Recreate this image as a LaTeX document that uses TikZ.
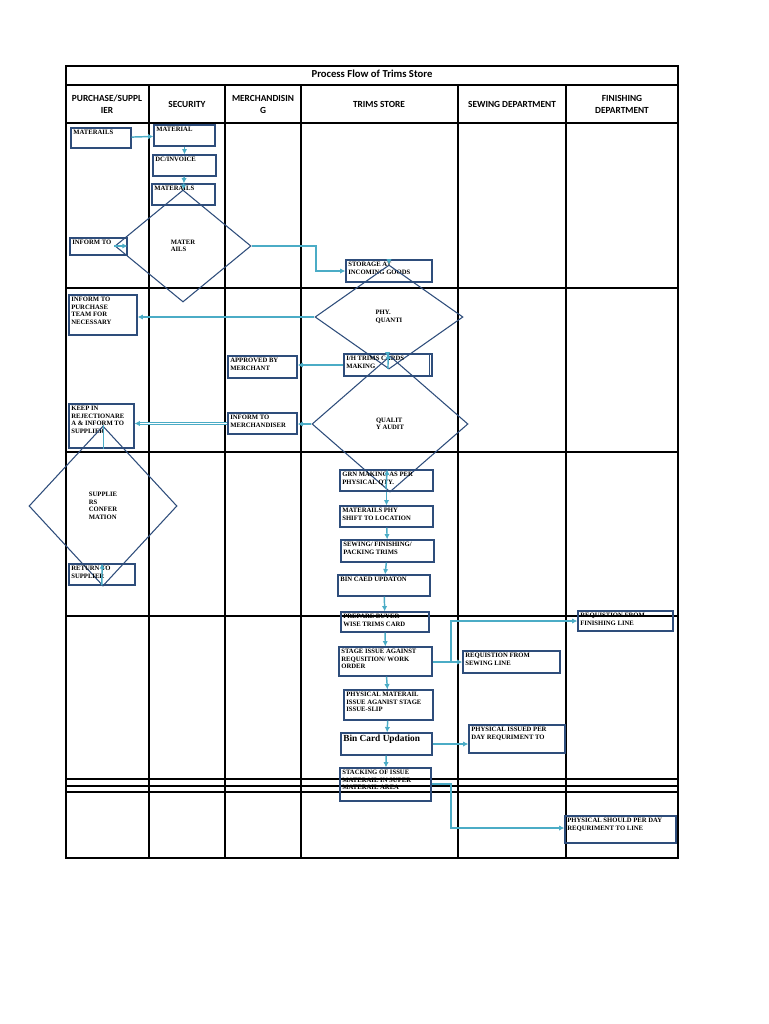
\documentclass[tikz,border=0pt]{standalone}
\usepackage{fontspec}
\setmainfont{Liberation Serif}
\newfontfamily\hdr{Carlito}
\usetikzlibrary{shapes.geometric,arrows.meta}
\definecolor{bord}{HTML}{2E4D7B}
\definecolor{arr}{HTML}{4BACC6}
\tikzset{
 box/.style={draw=bord,line width=0.9pt,inner sep=0pt,rectangle},
 btext/.style={font=\bfseries\fontsize{5}{5.6}\selectfont,align=left,inner sep=2pt,anchor=north west},
 dia/.style={draw=bord,line width=0.8pt,shape=diamond,inner sep=0pt},
 ar/.style={draw=arr,line width=1.1pt,-{Latex[length=4pt,width=4pt]}},
 grid/.style={line width=0.8pt,black},
 hd/.style={font=\hdr\bfseries\fontsize{7}{9}\selectfont,align=center}
}
\newcommand\bx[6]{\node[box,minimum width={(#4-#2)*0.75pt},minimum height={(#5-#3)*0.75pt}] (#1) at ({(#2+#4)/2},{(#3+#5)/2}) {};
\node[btext] at (#1.north west) {#6};}
\newcommand\dm[6]{\pgfmathsetmacro\myasp{#4/#5}\node[dia,minimum width={#4*1.5pt},minimum height={#5*1.5pt},aspect=\myasp] (#1) at (#2,#3) {};
\node[font=\bfseries\fontsize{5}{5.6}\selectfont,align=left] at (#1) {#6};}
\begin{document}
\begin{tikzpicture}[x=0.75pt,y=-0.75pt]
\useasboundingbox (0,0) rectangle (768,1024);
% grid
\draw[grid] (66,66) rectangle (678,858);
\draw[grid] (66,85) -- (678,85);
\foreach \x in {149,225,301,458,566} \draw[grid] (\x,85) -- (\x,858);
\foreach \y in {123,288,452,616,779,786,792} \draw[grid] (66,\y) -- (678,\y);
\node[font=\hdr\bfseries\fontsize{8}{9}\selectfont] (title) at (372,74) {Process Flow of Trims Store};
\node[hd] (h1) at (107,104) {PURCHASE/SUPPL\\IER};
\node[hd] (h2) at (187,104) {SECURITY};
\node[hd] (h3) at (263,104) {MERCHANDISIN\\G};
\node[hd] (h4) at (379,104) {TRIMS STORE};
\node[hd] (h5) at (512,104) {SEWING DEPARTMENT};
\node[hd] (h6) at (622,104) {FINISHING\\DEPARTMENT};
% boxes
\bx{m1}{71}{128}{131}{148}{MATERAILS}
\bx{m2}{154}{125}{215}{146}{MATERIAL}
\bx{dc}{153}{155}{216}{176}{DC/INVOICE}
\bx{m3}{152}{184}{215}{205}{MATERAILS}
\dm{d1}{183}{246}{68}{56}{MATER\\AILS}
\bx{inf}{70}{238}{127}{255}{INFORM TO}
\bx{sto}{346}{260}{432}{282}{STORAGE AT\\INCOMING GOODS}
\dm{d2}{389}{317}{74}{52}{PHY.\\QUANTI}
\bx{ipt}{69}{295}{137}{335}{INFORM TO\\PURCHASE\\TEAM FOR\\NECESSARY}
\bx{ih}{344}{354}{432}{376}{I/H TRIMS CARDS\\MAKING}
\draw[bord,line width=0.6pt] (429,354) -- (429,376);
\bx{apr}{228}{356}{297}{378}{APPROVED BY\\MERCHANT}
\dm{d3}{390}{424}{78}{68}{QUALIT\\Y AUDIT}
\bx{imr}{228}{413}{297}{434}{INFORM TO\\MERCHANDISER}
\bx{keep}{69}{404}{134}{448}{KEEP IN\\REJECTIONARE\\A \& INFORM TO\\SUPPLIER}
\dm{d4}{103}{506}{74}{80}{SUPPLIE\\RS\\CONFER\\MATION}
\bx{ret}{69}{564}{135}{585}{RETURN TO\\SUPPLIER}
\bx{grn}{340}{470}{433}{491}{GRN MAKING AS PER\\PHYSICAL QTY.}
\bx{shift}{340}{506}{433}{527}{MATERAILS PHY\\SHIFT TO LOCATION}
\bx{sew}{341}{540}{434}{562}{SEWING/ FINISHING/\\PACKING TRIMS}
\bx{bin}{338}{575}{430}{596}{BIN CAED UPDATON}
\bx{prep}{341}{612}{429}{632}{PREPARE BUYER\\WISE TRIMS CARD}
\bx{stage}{339}{647}{432}{676}{STAGE ISSUE AGAINST\\REQUSITION/ WORK\\ORDER}
\bx{phys}{344}{690}{433}{720}{PHYSICAL MATERAIL\\ISSUE AGANIST STAGE\\ISSUE-SLIP}
\node[box,minimum width={91*0.75pt},minimum height={22*0.75pt}] (bc) at (386.5,744) {};
\node[font=\bfseries\fontsize{7}{8}\selectfont,anchor=north west,inner sep=2pt] at (bc.north west) {Bin Card Updation};
\bx{stack}{340}{768}{431}{801}{STACKING OF ISSUE\\MATERAIL IN SUPER\\MATERAIL AREA}
\bx{rf}{578}{611}{673}{631}{REQUISTION FROM\\FINISHING LINE}
\bx{rs}{463}{651}{560}{673}{REQUISTION FROM\\SEWING LINE}
\bx{pi}{469}{725}{565}{753}{PHYSICAL ISSUED PER\\DAY REQURIMENT TO}
\bx{ps}{565}{816}{676}{843}{PHYSICAL SHOULD PER DAY\\REQURIMENT TO LINE}
% arrows
\draw[ar] (m1) -- (m2);
\draw[ar] (m2) -- (dc);
\draw[ar] (dc) -- (m3);
\draw[ar] (m3) -- (d1);
\draw[ar] (d1.west) -- (inf.east|-d1.west);
\coordinate (k1) at (316,246);
\coordinate (k2) at (316,271);
\draw[ar] (d1.east) -- (k1) -- (k2) -- (sto.west|-k2);
\draw[ar] (sto) -- (d2);
\draw[ar] (d2.west) -- (ipt.east|-d2.west);
\draw[ar] (d2) -- (ih);
\draw[ar] (ih.west) -- (apr.east|-ih.west);
\draw[ar] (ih) -- (d3);
\draw[ar] (d3.west) -- (imr.east|-d3.west);
\draw[ar,double=white,double distance=0.6pt,line width=0.6pt] (imr.west) -- (keep.east|-imr.west);
\draw[arr,line width=0.6pt] (keep.south-|d4.north) -- (d4.north);
\draw[ar] (d4) -- (ret);
\draw[ar] (d3) -- (grn);
\draw[ar] (grn) -- (shift);
\draw[ar] (shift) -- (sew);
\draw[ar] (sew) -- (bin);
\draw[ar] (bin) -- (prep);
\draw[ar] (prep) -- (stage);
\draw[ar] (stage) -- (phys);
\draw[ar] (phys) -- (bc);
\draw[ar] (bc) -- (stack);
\coordinate (s1) at (451,662);
\coordinate (s2) at (451,621);
\draw[ar] (stage.east|-s1) -- (rs.west|-s1);
\draw[ar] (s1) -- (s2) -- (rf.west|-s2);
\draw[ar] (bc.east) -- (pi.west|-bc.east);
\coordinate (t1) at (451,784);
\coordinate (t2) at (451,828);
\draw[ar] (stack.east|-t1) -- (t1) -- (t2) -- (ps.west|-t2);
\end{tikzpicture}
\end{document}
